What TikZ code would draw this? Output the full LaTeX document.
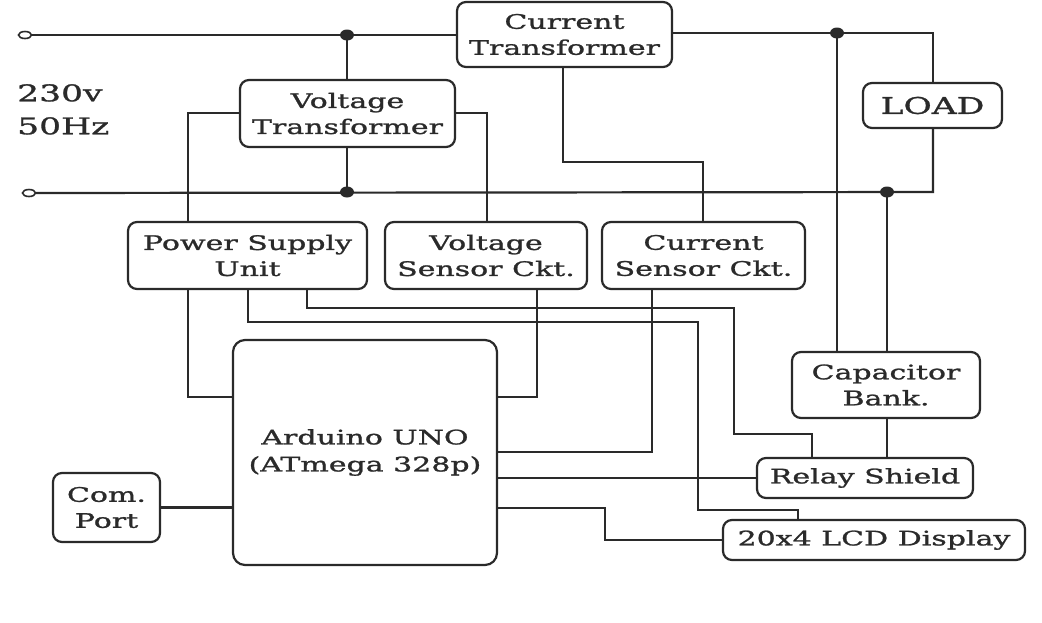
\documentclass[tikz,border=0pt]{standalone}
\usepackage{fontspec}
\setmainfont{DejaVu Serif}[FakeStretch=1.5,FakeBold=1.2]
\definecolor{ln}{HTML}{2A2A2A}
\tikzset{
  blk/.style={draw=ln, rounded corners=9pt, line width=2.2pt, inner sep=0pt, align=center, text=ln,
    font=\fontsize{20}{26}\selectfont},
  wire/.style={draw=ln, line width=2.2pt},
  jdot/.style={fill=ln},
  term/.style={draw=ln, fill=white, line width=1.6pt}
}
\begin{document}
\begin{tikzpicture}[x=1pt,y=-1pt]
\useasboundingbox (0,0) rectangle (1042,622);
\fill[white] (0,0) rectangle (1042,622);

% blocks
\node[blk, minimum width=215pt, minimum height=65pt] (ct) at (564.5,34.5) {Current\\Transformer};
\node[blk, minimum width=215pt, minimum height=67pt] (vt) at (347.5,113.5) {Voltage\\Transformer};
\node[blk, minimum width=139pt, minimum height=45pt, font=\fontsize{23}{26}\selectfont] (load) at (932.5,105.5) {LOAD};
\node[blk, minimum width=239pt, minimum height=67pt] (psu) at (247.5,255.5) {Power Supply\\Unit};
\node[blk, minimum width=202pt, minimum height=67pt] (vs) at (486,255.5) {Voltage\\Sensor Ckt.};
\node[blk, minimum width=203pt, minimum height=67pt] (cs) at (703.5,255.5) {Current\\Sensor Ckt.};
\node[blk, minimum width=188pt, minimum height=66pt] (cap) at (886,385) {Capacitor\\Bank.};
\node[blk, minimum width=264pt, minimum height=225pt, rounded corners=12pt, font=\fontsize{20}{27}\selectfont] (ard) at (365,452.5) {Arduino UNO\\(ATmega 328p)};
\node[blk, minimum width=107pt, minimum height=69pt] (com) at (106.5,507.5) {Com.\\Port};
\node[blk, minimum width=216pt, minimum height=40pt] (relay) at (865,478) {Relay Shield};
\node[blk, minimum width=302pt, minimum height=40pt] (lcd) at (874,540) {20x4 LCD Display};

\node[anchor=north west, align=left, inner sep=0pt, text=ln, font=\fontsize{23}{33}\selectfont] (src) at (17,84) {230v\\50Hz};

% coordinates
\coordinate (t1) at (25,35);
\coordinate (t2) at (29,193);
\coordinate (d1) at (347,35);
\coordinate (d3) at (347,192);
\coordinate (d2) at (837,33);
\coordinate (d4) at (887,192);
\coordinate (lc) at (933,33);
\coordinate (lb) at (933,192);
\coordinate (a1) at (188,113);
\coordinate (a2) at (487,113);
\coordinate (a3) at (563,162);
\coordinate (a4) at (703,162);
\coordinate (p1) at (188,397);
\coordinate (p2) at (248,322);
\coordinate (p2b) at (698,322);
\coordinate (p2c) at (698,510);
\coordinate (p2d) at (798,510);
\coordinate (p3) at (307,308);
\coordinate (p3b) at (734,308);
\coordinate (p3c) at (734,434);
\coordinate (p3d) at (812,434);
\coordinate (v1) at (537,397);
\coordinate (c1) at (652,452);
\coordinate (l1) at (605,508);
\coordinate (l2) at (605,540);

% mains
\draw[wire] (t1) -- (t1 -| ct.west);
\draw[wire] (ct.east |- d2) -- (lc) -- (load.north -| lc);
\draw[wire] (load.south -| lb) -- (lb) -- (t2);
\draw[wire] (d1) -- (vt.north -| d1);
\draw[wire] (vt.south -| d3) -- (d3);
\draw[wire] (vt.west |- a1) -| (psu.north -| a1);
\draw[wire] (vt.east |- a2) -| (vs.north -| a2);
\draw[wire] (ct.south -| a3) -- (a3) -- (a4) -- (cs.north -| a4);
\draw[wire] (d2) -- (cap.north -| d2);
\draw[wire] (d4) -- (cap.north -| d4);
\draw[wire] (cap.south -| d4) -- (relay.north -| d4);

% low voltage
\draw[wire] (psu.south -| p1) -- (p1) -- (ard.west |- p1);
\draw[wire] (psu.south -| p2) -- (p2) -- (p2b) -- (p2c) -- (p2d) -- (lcd.north -| p2d);
\draw[wire] (psu.south -| p3) -- (p3) -- (p3b) -- (p3c) -- (p3d) -- (relay.north -| p3d);
\draw[wire] (vs.south -| v1) -- (v1) -- (ard.east |- v1);
\draw[wire] (cs.south -| c1) -- (c1) -- (ard.east |- c1);
\draw[wire] (ard.east |- relay.west) -- (relay.west);
\draw[wire] (ard.east |- l1) -- (l1) -- (l2) -- (lcd.west |- l2);
\draw[wire] (com.east) -- (ard.west |- com.east);

% junctions and terminals
\foreach \d in {d1,d2,d3,d4} \fill[jdot] (\d) ellipse [x radius=7, y radius=5.5];
\draw[term] (t1) ellipse [x radius=6.5, y radius=3.5];
\draw[term] (t2) ellipse [x radius=6.5, y radius=3.5];
\end{tikzpicture}
\end{document}
